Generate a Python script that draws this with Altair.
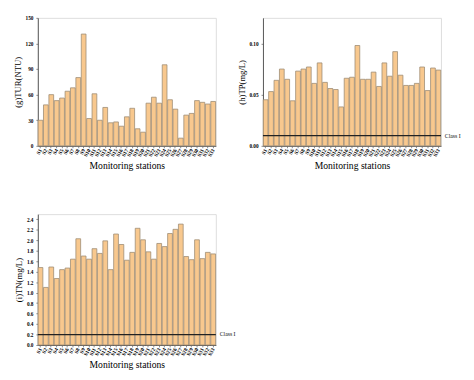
import altair as alt
import pandas as pd

stations = [f"S{i}" for i in range(1, 34)]
tur = [30, 48, 60, 53, 56, 64, 68, 80, 131, 32, 61, 30, 45, 27, 28, 23, 34, 44, 20, 16,
       50, 57, 50, 95, 54, 43, 9, 36, 38, 53, 51, 49, 52]
tp = [0.045, 0.053, 0.064, 0.075, 0.065, 0.044, 0.073, 0.075, 0.077, 0.061, 0.081, 0.062,
      0.056, 0.055, 0.038, 0.066, 0.067, 0.098, 0.065, 0.065, 0.072, 0.058, 0.081, 0.068,
      0.092, 0.069, 0.059, 0.059, 0.061, 0.077, 0.054, 0.076, 0.074]
tn = [1.48, 1.10, 1.49, 1.27, 1.44, 1.47, 1.64, 2.03, 1.70, 1.64, 1.84, 1.75, 1.99, 1.44,
      2.12, 1.92, 1.62, 1.77, 2.23, 2.01, 1.78, 1.64, 1.94, 1.88, 2.13, 2.21, 2.31, 1.69,
      1.63, 2.01, 1.65, 1.77, 1.74]
tn_ticks = [0.0, 0.2, 0.4, 0.6, 0.8, 1.0, 1.2, 1.4, 1.6, 1.8, 2.0, 2.2, 2.4]
tp_class1 = 0.01
tn_class1 = 0.2

FONT = "Times New Roman, Liberation Serif, serif"
FILL = "#F8C88E"
EDGE = "#9C8B74"
W, H = 185, 133


def panel(values, title, domain, ticks, fmt, class_line=None, h=H):
    df = pd.DataFrame({"station": stations, "value": values})
    yscale = alt.Scale(domain=domain, nice=False, zero=True)
    yaxis = alt.Axis(title=title, values=ticks, format=fmt, labelFont=FONT,
                     labelFontSize=5.5, labelFontWeight="bold", tickSize=2,
                     labelOverlap=False, labelSeparation=0, labelPadding=3,
                     titleFont=FONT, titleFontSize=9, titleFontWeight="normal",
                     titlePadding=3, grid=False, domainColor="#555")
    bars = alt.Chart(df).mark_bar(fill=FILL, stroke=EDGE, strokeWidth=0.8).encode(
        x=alt.X("station:N", sort=stations,
                scale=alt.Scale(paddingInner=0.12, paddingOuter=0.05),
                axis=alt.Axis(title="Monitoring stations", labelAngle=-60,
                              labelFontSize=5.5, labelFont=FONT, labelFontWeight="bold",
                              labelPadding=1, tickSize=2, titleFont=FONT,
                              titleFontSize=10, titleFontWeight="normal",
                              titlePadding=3, domainColor="#555")),
        y=alt.Y("value:Q", scale=yscale, axis=yaxis),
    )
    layers = [bars]
    if class_line is not None:
        ldf = pd.DataFrame({"value": [class_line], "label": ["Class I"]})
        rule = alt.Chart(ldf).mark_rule(color="#222", strokeWidth=1.3).encode(
            y=alt.Y("value:Q", scale=yscale, axis=yaxis))
        txt = alt.Chart(ldf).mark_text(align="left", baseline="middle", dx=4,
                                       font=FONT, fontSize=6, color="#111").encode(
            x=alt.value(W), y=alt.Y("value:Q", scale=yscale, axis=yaxis), text="label:N")
        layers += [rule, txt]
    return alt.layer(*layers).properties(width=W, height=h)


p1 = panel(tur, "(g)TUR(NTU)", [0, 150], [0, 30, 60, 90, 120, 150], "d")
p2 = panel(tp, "(h)TP(mg/L)", [0, 0.125], [0.0, 0.05, 0.10], ".2f", tp_class1)
p3 = panel(tn, "(i)TN(mg/L)", [0, 2.5], tn_ticks, ".1f", tn_class1, h=136)

chart = alt.vconcat(
    alt.hconcat(p1, p2, spacing=20),
    p3,
    spacing=44,
).properties(padding={"left": 5, "top": 0, "right": 5, "bottom": 0}).configure_view(
    stroke="#888", strokeWidth=1).configure(background="white")

chart.save("out.html", embed_options={"renderer": "svg", "actions": False})
